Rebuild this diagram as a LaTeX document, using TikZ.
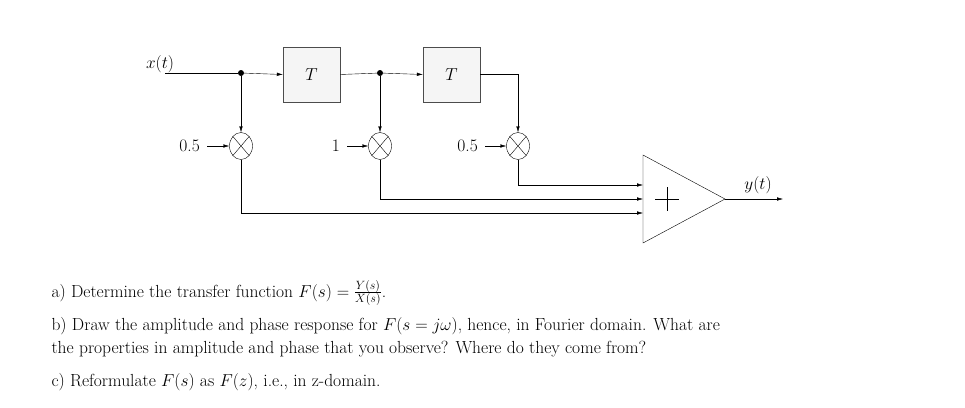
\documentclass[tikz,border=0pt]{standalone}
\usetikzlibrary{arrows.meta,shapes.geometric}
\begin{document}
\begin{tikzpicture}[x=1pt,y=-1pt,
  every node/.style={font=\fontsize{17.5}{22}\selectfont},
  ar/.style={-{Latex[length=6pt,width=3.5pt]}},
  blk/.style={draw=black!70,fill=black!4,minimum width=57pt,minimum height=55pt,inner sep=0pt},
  mul/.style={draw,ellipse,minimum width=23pt,minimum height=27pt,inner sep=0pt},
  coef/.style={anchor=east,inner sep=1pt},
  dot/.style={circle,fill,inner sep=0pt,minimum size=6pt}]
\useasboundingbox (0,0) rectangle (965,407);
\node[anchor=south] (xt) at (160,76) {$x(t)$};
\coordinate (in) at (165,73);
\node[dot] (d1) at (241,73) {};
\node[blk] (t1) at (311.5,74.5) {$T$};
\node[dot] (d2) at (380,73) {};
\node[blk] (t2) at (451.5,74.5) {$T$};
\node[mul] (m1) at (241,146) {};
\node[mul] (m2) at (380,146) {};
\node[mul] (m3) at (518,146) {};
\foreach \m in {m1,m2,m3}{\draw (\m.north west)--(\m.south east) (\m.north east)--(\m.south west);}
\node[coef] (c1) at (201,146) {0.5};
\node[coef] (c2) at (341,146) {1};
\node[coef] (c3) at (479,146) {0.5};
\draw[ar,shorten <=6pt] (c1) -- (m1);
\draw[ar,shorten <=6pt] (c2) -- (m2);
\draw[ar,shorten <=6pt] (c3) -- (m3);
\draw (in) -- (d1);
\draw[ar] (d1) -- (t1.west);
\draw (t1.east) -- (d2);
\draw[ar] (d2) -- (t2.west);
\draw[ar] (d1) -- (m1);
\draw[ar] (d2) -- (m2);
\draw[ar] (t2.east) -| (m3);
\draw[fill=white] (643,155) -- (725,199) -- (643,243) -- cycle;
\coordinate (sum) at (643,199);
\draw (655,199) -- (679,199) (667,187) -- (667,211);
\draw[ar] (m3) |- (643,185);
\draw[ar] (m2) |- (643,199);
\draw[ar] (m1) |- (643,213);
\coordinate (out) at (783,199);
\draw[ar] (725,199) -- (out);
\node[anchor=south] (yt) at (758,197) {$y(t)$};
\node[anchor=base west] (qa) at (48,297) {a) Determine the transfer function $F(s)=\frac{Y(s)}{X(s)}$.};
\node[anchor=base west] (qb1) at (48,330) {b) Draw the amplitude and phase response for $F(s=j\omega)$, hence, in Fourier domain. What are};
\node[anchor=base west] (qb2) at (48,353) {the properties in amplitude and phase that you observe? Where do they come from?};
\node[anchor=base west] (qc) at (48,386) {c) Reformulate $F(s)$ as $F(z)$, i.e., in z-domain.};
\end{tikzpicture}
\end{document}
